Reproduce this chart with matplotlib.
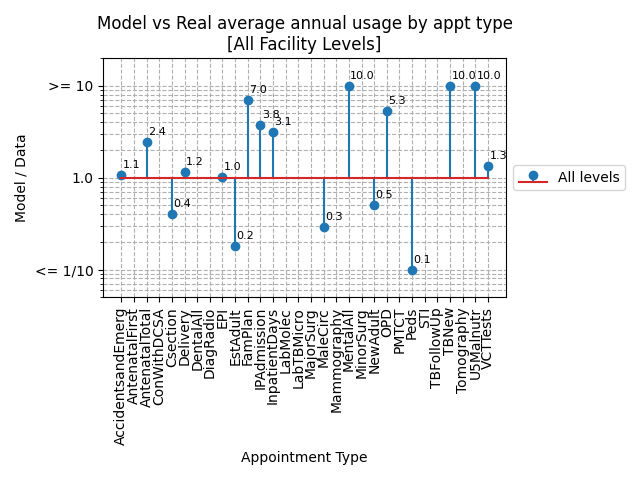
import matplotlib
matplotlib.use('Agg')
import matplotlib.pyplot as plt
import matplotlib.ticker as mticker
import numpy as np

# appointment types and model/data ratios (nan = no data)
appt_types = ['AccidentsandEmerg', 'AntenatalFirst', 'AntenatalTotal', 'ConWithDCSA',
              'Csection', 'Delivery', 'DentalAll', 'DiagRadio', 'EPI', 'EstAdult',
              'FamPlan', 'IPAdmission', 'InpatientDays', 'LabMolec', 'LabTBMicro',
              'MajorSurg', 'MaleCirc', 'Mammography', 'MentalAll', 'MinorSurg',
              'NewAdult', 'OPD', 'PMTCT', 'Peds', 'STI', 'TBFollowUp', 'TBNew',
              'Tomography', 'U5Malnutr', 'VCTTests']
nan = np.nan
ratio = [1.07, nan, 2.44, nan,
         0.40, 1.16, nan, nan, 1.02, 0.18,
         7.0, 3.77, 3.11, nan, nan,
         nan, 0.29, nan, 10.0, nan,
         0.51, 5.31, nan, 0.1, nan, nan, 10.0,
         nan, 10.0, 1.33]

ytick_vals = [0.1, 1.0, 10.0]
ytick_labels = ['<= 1/10', '1.0', '>= 10']

x = np.arange(len(appt_types))
y = np.clip(np.array(ratio, dtype=float), 0.1, 10.0)

fig, ax = plt.subplots(figsize=(6.4, 4.8), dpi=100)
ax.stem(x, y, bottom=1.0, label='All levels')
ax.set_yscale('log')
ax.set_ylim(0.05, 20)

for xi, yi in zip(x, y):
    if np.isnan(yi):
        continue
    ax.annotate(f'{yi:.1f}', (xi, yi), xytext=(1, 5), textcoords='offset points',
                fontsize=8)

ax.set_xticks(x)
ax.set_xticklabels(appt_types, rotation=90)
ax.set_yticks(ytick_vals)
ax.set_yticklabels(ytick_labels)
ax.yaxis.set_minor_formatter(mticker.NullFormatter())
ax.grid(which='both', linestyle='--')
ax.set_axisbelow(True)

ax.set_title('Model vs Real average annual usage by appt type\n[All Facility Levels]')
ax.set_xlabel('Appointment Type')
ax.set_ylabel('Model / Data')
ax.legend(loc='center left', bbox_to_anchor=(1.0, 0.5))
fig.tight_layout()
fig.savefig('out.png')
